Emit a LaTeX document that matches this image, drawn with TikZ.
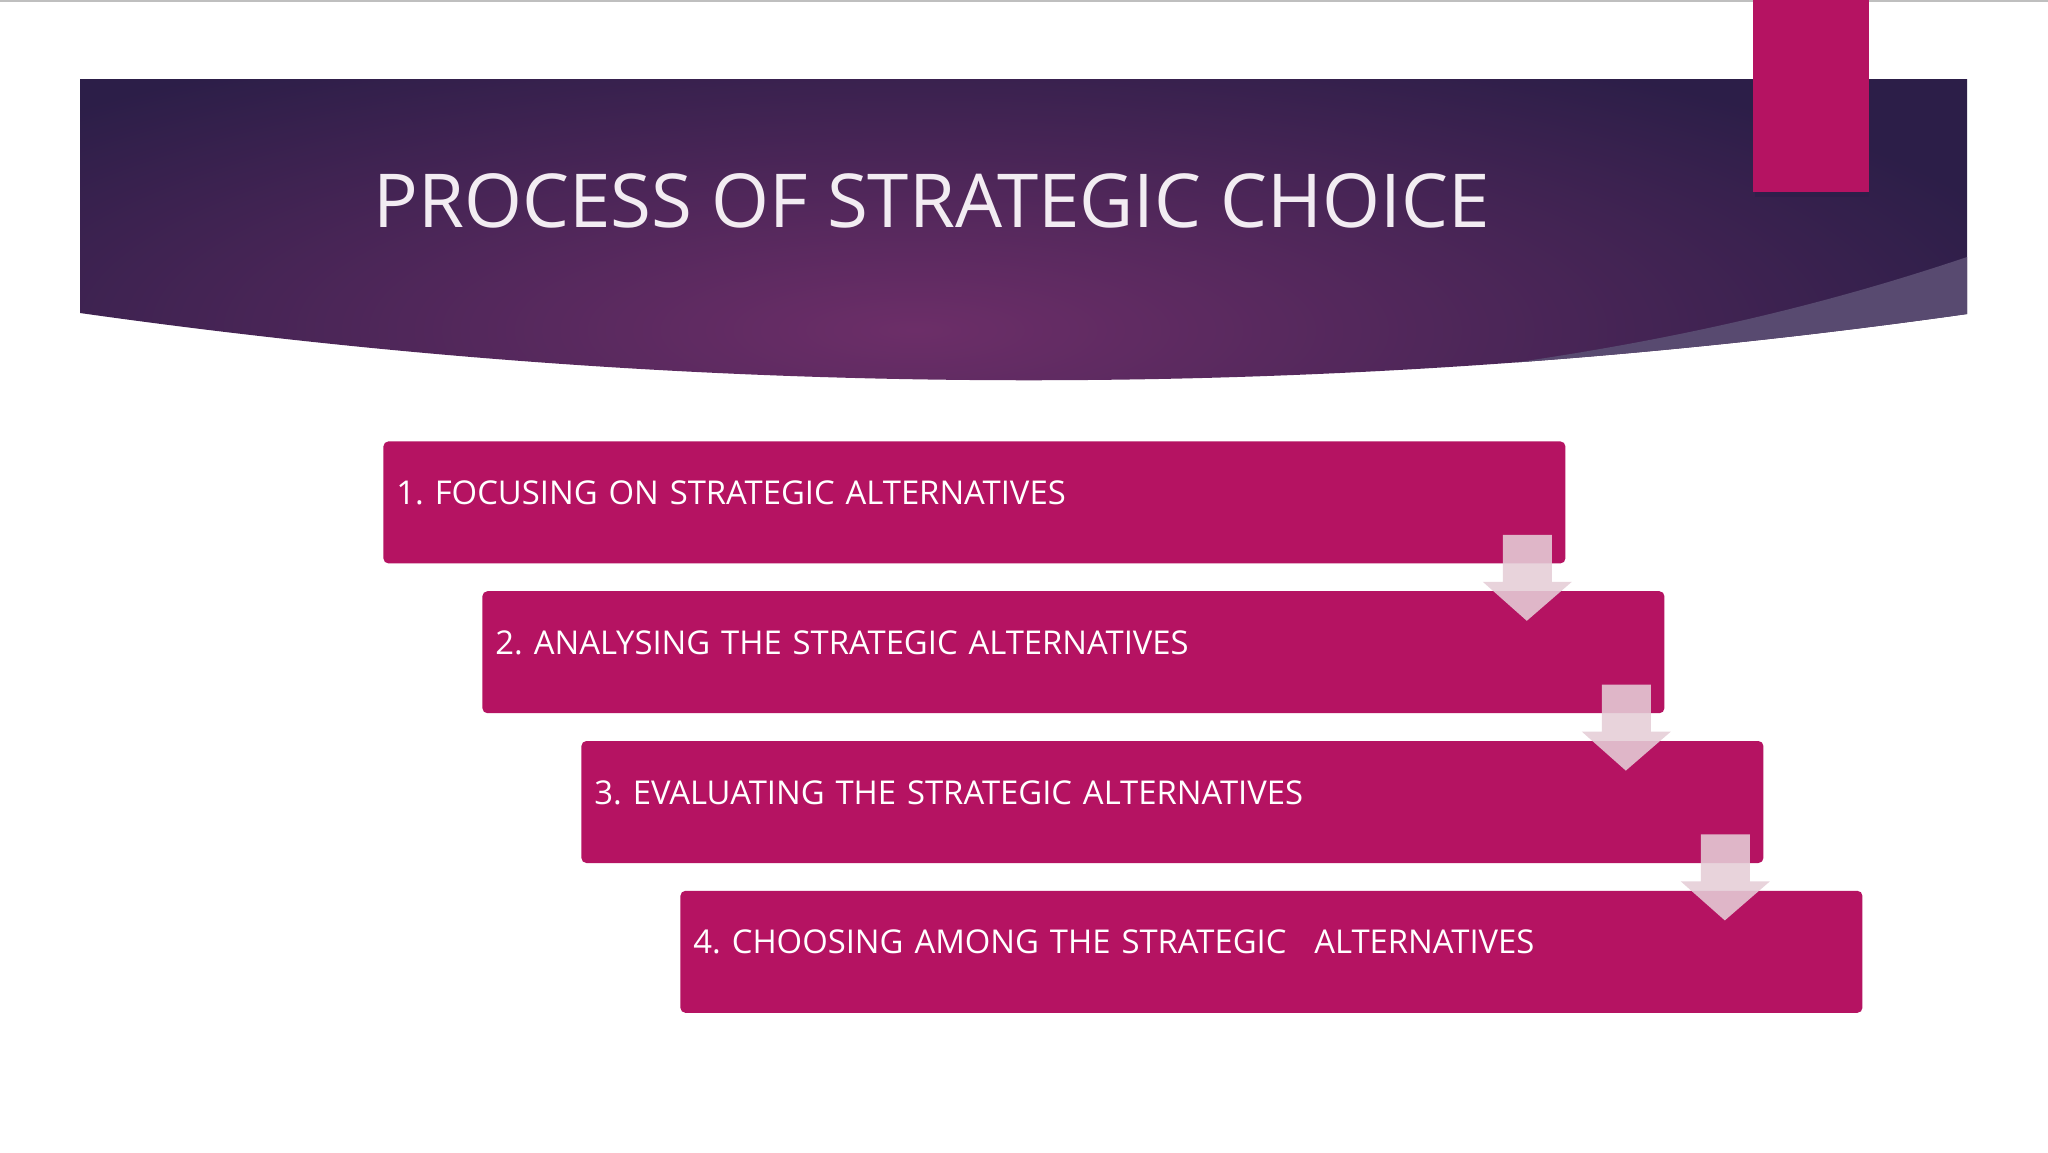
\documentclass[tikz,border=0pt]{standalone}
\usepackage{fontspec}
\setmainfont{Open Sans}
\usetikzlibrary{positioning}
\frenchspacing

\definecolor{stepmagenta}{RGB}{181,19,98}
\definecolor{bannerdark}{RGB}{44,30,72}
\definecolor{bannerglow}{RGB}{108,46,104}
\definecolor{bandlight}{RGB}{88,74,112}
\definecolor{arrowpink}{RGB}{229,205,215}
\definecolor{titlewhite}{RGB}{242,236,242}

\tikzstyle{stepbox}=[fill=stepmagenta, rounded corners=2.5pt, text=white,
  font=\fontsize{16.4}{20}\selectfont, text width=578pt, align=left,
  inner xsep=6.5pt, inner ysep=0pt, minimum height=61pt,
  text height=12pt, text depth=10pt]
\tikzstyle{flowarrow}=[fill=arrowpink, fill opacity=0.88]

\tikzset{downarrow/.pic={
  \fill[flowarrow] (-24,-29) -- (25,-29) -- (25,18) -- (45,18) -- (0,57)
    -- (-44,18) -- (-24,18) -- cycle;
}}

\begin{document}
\begin{tikzpicture}[x=0.5pt, y=-0.5pt]
\useasboundingbox (0,0) rectangle (2048,1152);
\fill[white] (0,0) rectangle (2048,1152);
\draw[black!25, line width=1pt] (0,1) -- (2048,1);

% title banner
\begin{scope}
  \clip (80,79) -- (1967,79) -- (1967,314)
    .. controls (1338,403) and (709,402) .. (80,313) -- cycle;
  \shade[inner color=bannerglow, outer color=bannerdark] (-250,10) rectangle (2080,650);
  \fill[bandlight] (1967,257) .. controls (1780,320) and (1600,355) .. (1380,380)
    -- (1967,420) -- cycle;
\end{scope}
\fill[bannerdark, opacity=0.6] (1755,192) rectangle (1869,197);
\fill[stepmagenta] (1753,0) rectangle (1869,192);

\node[anchor=west, text=titlewhite, font=\fontsize{37.2}{44}\selectfont, inner sep=0pt]
  (title) at (373,201) {PROCESS OF STRATEGIC CHOICE};

% steps
\node[stepbox, anchor=north west] (s1) at (383,441) {1. FOCUSING ON STRATEGIC ALTERNATIVES};
\node[stepbox, below=13.5pt of s1, xshift=49.5pt] (s2) {2. ANALYSING THE STRATEGIC ALTERNATIVES};
\node[stepbox, below=13.5pt of s2, xshift=49.5pt] (s3) {3. EVALUATING THE STRATEGIC ALTERNATIVES};
\node[stepbox, below=13.5pt of s3, xshift=49.5pt] (s4) {4. CHOOSING AMONG THE STRATEGIC\hspace{0.85em}ALTERNATIVES};

% arrows between steps
\pic at ([xshift=-19.5pt]s1.south east) {downarrow};
\pic at ([xshift=-19.5pt]s2.south east) {downarrow};
\pic at ([xshift=-19.5pt]s3.south east) {downarrow};
\end{tikzpicture}
\end{document}
